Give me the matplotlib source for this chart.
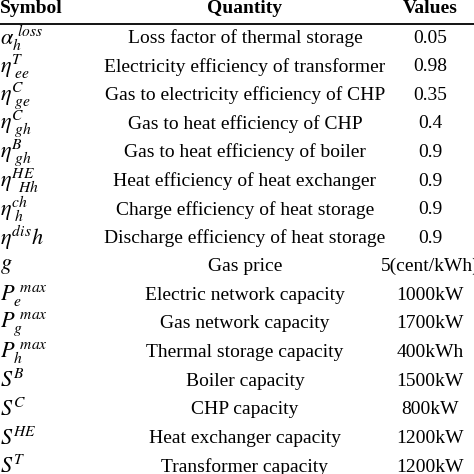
import matplotlib.pyplot as plt

plt.rcParams['font.family'] = 'Liberation Serif'
plt.rcParams['mathtext.fontset'] = 'stix'

headers = ['Symbol', 'Quantity', 'Values']
symbols = [r'$\alpha_h^{\ loss}$', r'$\eta^{T}_{\ ee}$', r'$\eta^{C}_{\ ge}$', r'$\eta^{C}_{\ gh}$',
           r'$\eta^{B}_{\ gh}$', r'$\eta^{HE}_{\ \ Hh}$', r'$\eta^{ch}_{\ h}$', r'$\eta^{dis}h$', r'$g$',
           r'$P_e^{\ max}$', r'$P_g^{\ max}$', r'$P_h^{\ max}$', r'$S^B$', r'$S^C$', r'$S^{HE}$', r'$S^T$']
quantities = ['Loss factor of thermal storage', 'Electricity efficiency of transformer',
              'Gas to electricity efficiency of CHP', 'Gas to heat efficiency of CHP',
              'Gas to heat efficiency of boiler', 'Heat efficiency of heat exchanger',
              'Charge efficiency of heat storage', 'Discharge efficiency of heat storage',
              'Gas price', 'Electric network capacity', 'Gas network capacity',
              'Thermal storage capacity', 'Boiler capacity', 'CHP capacity',
              'Heat exchanger capacity', 'Transformer capacity']
values = ['0.05', '0.98', '0.35', '0.4', '0.9', '0.9', '0.9', '0.9', '5(cent/kWh)',
          '1000kW', '1700kW', '400kWh', '1500kW', '800kW', '1200kW', '1200kW']

fig = plt.figure(figsize=(4.74, 4.74), dpi=100)
ax = fig.add_axes([0, 0, 1, 1])
ax.set_xlim(0, 474)
ax.set_ylim(474, 0)
ax.axis('off')

fs = 14
ax.text(0, 8, headers[0], fontsize=fs, fontweight='bold', va='center', ha='left')
ax.text(245, 8, headers[1], fontsize=fs, fontweight='bold', va='center', ha='center')
ax.text(430, 8, headers[2], fontsize=fs, fontweight='bold', va='center', ha='center')
ax.plot([0, 474], [24, 24], color='black', lw=1.3)

y0, dy = 38, 28.6
for i, (s, q, v) in enumerate(zip(symbols, quantities, values)):
    y = y0 + i * dy
    ax.text(0, y, s, fontsize=fs + 2, va='center', ha='left')
    ax.text(245, y, q, fontsize=fs, va='center', ha='center')
    ax.text(430, y, v, fontsize=fs, va='center', ha='center')

fig.savefig('out.png', dpi=100)
